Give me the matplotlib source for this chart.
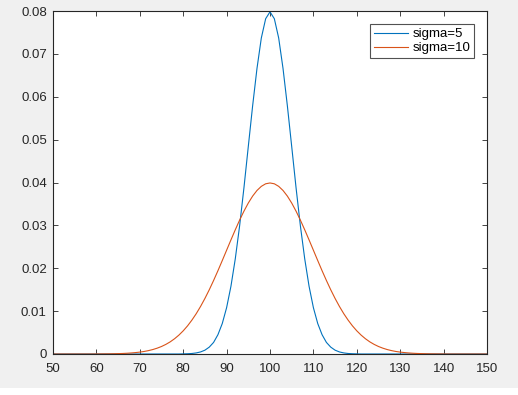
import matplotlib
matplotlib.use("Agg")
import matplotlib.pyplot as plt
from matplotlib.patches import Rectangle

x_values = list(range(50, 151))

sigma5 = [0.0] * 30 + [
    0.00003, 0.00006, 0.00012, 0.00025, 0.00048, 0.00089, 0.0016, 0.0027, 0.0045, 0.0071,
    0.0108, 0.0158, 0.0222, 0.0299, 0.0388, 0.0484, 0.0579, 0.0666, 0.0737, 0.0782,
    0.0798,
    0.0782, 0.0737, 0.0666, 0.0579, 0.0484, 0.0388, 0.0299, 0.0222, 0.0158, 0.0108,
    0.0071, 0.0045, 0.0027, 0.0016, 0.00089, 0.00048, 0.00025, 0.00012, 0.00006, 0.00003,
] + [0.0] * 30

sigma10 = [0.0] * 10 + [
    0.00001, 0.00002, 0.00003, 0.00004, 0.00006, 0.00009, 0.00012, 0.00017, 0.00024, 0.00033,
    0.00044, 0.00059, 0.00079, 0.00104, 0.00136, 0.00175, 0.00224, 0.00283, 0.00355, 0.00440,
    0.00540, 0.00656, 0.00790, 0.00940, 0.01109, 0.01295, 0.01497, 0.01714, 0.01942, 0.02179,
    0.02420, 0.02661, 0.02897, 0.03123, 0.03332, 0.03521, 0.03683, 0.03814, 0.03910, 0.03970,
    0.03989,
    0.03970, 0.03910, 0.03814, 0.03683, 0.03521, 0.03332, 0.03123, 0.02897, 0.02661, 0.02420,
    0.02179, 0.01942, 0.01714, 0.01497, 0.01295, 0.01109, 0.00940, 0.00790, 0.00656, 0.00540,
    0.00440, 0.00355, 0.00283, 0.00224, 0.00175, 0.00136, 0.00104, 0.00079, 0.00059, 0.00044,
    0.00033, 0.00024, 0.00017, 0.00012, 0.00009, 0.00006, 0.00004, 0.00003, 0.00002, 0.00001,
] + [0.0] * 10

series_labels = ["sigma=5", "sigma=10"]
x_ticks = [50, 60, 70, 80, 90, 100, 110, 120, 130, 140, 150]
y_ticks = [0, 0.01, 0.02, 0.03, 0.04, 0.05, 0.06, 0.07, 0.08]
y_tick_labels = ["0", "0.01", "0.02", "0.03", "0.04", "0.05", "0.06", "0.07", "0.08"]

plt.rcParams['font.family'] = ['Liberation Sans', 'DejaVu Sans']

fig = plt.figure(figsize=(5.18, 3.95), dpi=100, facecolor="#f0f0f0")
fig.patches.append(Rectangle((0, 0), 1, 7 / 395, transform=fig.transFigure,
                             facecolor="white", edgecolor="none", zorder=-1))
ax = fig.add_axes([53 / 518, 1 - 354 / 395, 434 / 518, 343 / 395])
ax.set_facecolor("white")

ax.plot(x_values, sigma5, color="#0072BD", lw=0.8, label=series_labels[0])
ax.plot(x_values, sigma10, color="#D95319", lw=0.8, label=series_labels[1])

ax.set_xlim(50, 150)
ax.set_ylim(0, 0.08)
ax.set_xticks(x_ticks)
ax.set_yticks(y_ticks)
ax.set_yticklabels(y_tick_labels)
ax.tick_params(direction="in", top=True, right=True, length=3.5, width=0.6,
               colors="#262626", labelsize=9.5)
ax.tick_params(axis="x", pad=6.5)
ax.tick_params(axis="y", pad=4.5)
for s in ax.spines.values():
    s.set_color("#262626")
    s.set_linewidth(0.8)

leg = ax.legend(loc="upper right", bbox_to_anchor=((474 - 53) / 434, (354 - 24) / 343),
                fontsize=9.5, frameon=True, fancybox=False, handlelength=2.6,
                handletextpad=0.3, borderpad=0.3, labelspacing=0.15, borderaxespad=0)
leg.get_frame().set_edgecolor("#262626")
leg.get_frame().set_linewidth(0.8)

fig.savefig("out.png", dpi=100, facecolor=fig.get_facecolor())
